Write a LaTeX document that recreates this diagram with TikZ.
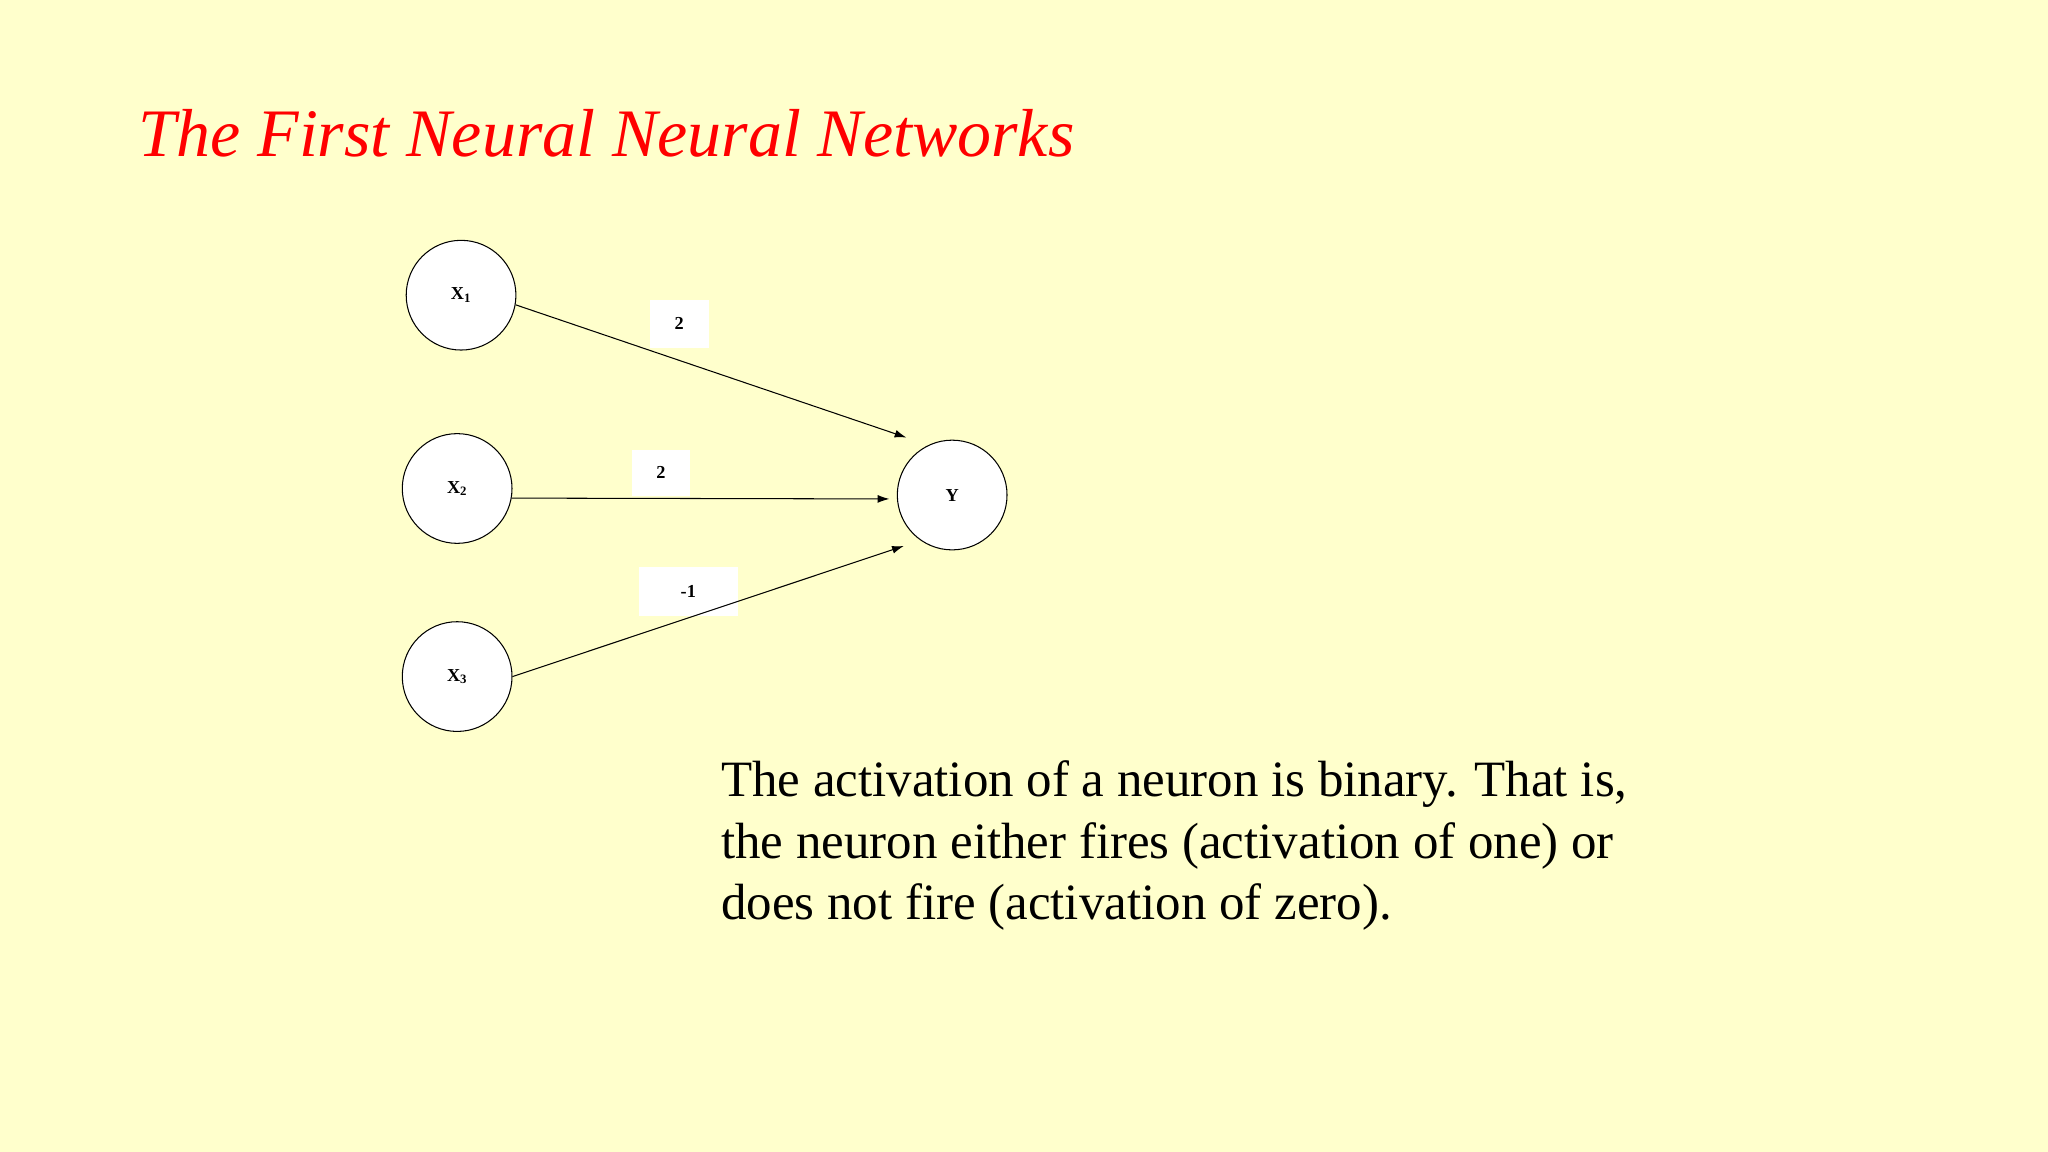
\documentclass[tikz,border=0pt]{standalone}
\usepackage{fontspec}
\setmainfont{Liberation Serif}
\usetikzlibrary{arrows.meta}
\definecolor{bg}{HTML}{FFFFCC}
\begin{document}
\begin{tikzpicture}[x=1pt,y=-1pt,
 neuron/.style={circle,draw,thick,fill=white,minimum size=84pt,inner sep=0pt,font=\fontsize{14}{16}\selectfont\bfseries},
 wbox/.style={fill=white,inner sep=0pt,font=\fontsize{14}{16}\selectfont\bfseries},
 conn/.style={thick,-{Latex[length=9pt,width=6pt]}}]
\fill[bg] (0,0) rectangle (1568,882);
\useasboundingbox (0,0) rectangle (1568,882);
\node[anchor=base west,inner sep=0pt,text=red,font=\fontsize{52}{60}\selectfont\itshape] (title) at (106,120) {The First Neural Neural Networks};
\node[neuron] (x1) at (353,226) {X\textsubscript{1}};
\node[neuron] (x2) at (350,374) {X\textsubscript{2}};
\node[neuron] (x3) at (350,518) {X\textsubscript{3}};
\node[neuron] (y) at (729,379) {Y};
\node[wbox,minimum width=45pt,minimum height=37pt] (w1) at (520,248) {2};
\node[wbox,minimum width=45pt,minimum height=35pt] (w2) at (506,362) {2};
\node[wbox,minimum width=76pt,minimum height=38pt] (w3) at (527,453) {-1};
\coordinate (e1) at (694,335);
\coordinate (e2) at (681,382);
\coordinate (e3) at (692,418);
\draw[conn] (x1.-10) -- (e1);
\draw[conn] (x2.-10) -- (e2);
\draw[conn] (x3.0) -- (e3);
\node[anchor=base west,inner sep=0pt,align=left,font=\fontsize{39}{47}\selectfont] (txt) at (552,704) {The activation of a neuron is binary. That is,\\the neuron either fires (activation of one) or\\does not fire (activation of zero).};
\end{tikzpicture}
\end{document}
